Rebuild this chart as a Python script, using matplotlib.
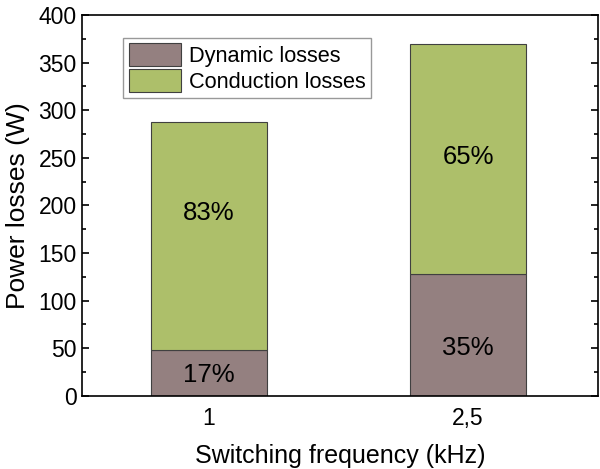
import numpy as np
import matplotlib
matplotlib.use('Agg')
import matplotlib.pyplot as plt
from matplotlib.ticker import MultipleLocator

plt.rcParams['font.family'] = ['Liberation Sans', 'DejaVu Sans']

freqs = ['1', '2,5']
dynamic = [48, 128]
conduction = [240, 242]
dyn_pct = ['17%', '35%']
cond_pct = ['83%', '65%']
dyn_label_y = [22, 50]
cond_label_y = [192, 251]

fig = plt.figure(figsize=(6.0, 4.69), dpi=100)
ax = fig.add_axes([0.137, 0.156, 0.859, 0.812])

x = np.arange(len(freqs))
ax.bar(x, dynamic, width=0.45, color='#948080', edgecolor='#404040',
       linewidth=0.8, label='Dynamic losses')
ax.bar(x, conduction, width=0.45, bottom=dynamic, color='#adbf6a',
       edgecolor='#404040', linewidth=0.8, label='Conduction losses')

for i in range(len(freqs)):
    ax.text(x[i], dyn_label_y[i], dyn_pct[i], ha='center', va='center', fontsize=18.5)
    ax.text(x[i], cond_label_y[i], cond_pct[i], ha='center', va='center', fontsize=18.5)

ax.set_xlim(-0.49, 1.5)
ax.set_ylim(0, 400)
ax.set_xticks(x)
ax.set_xticklabels(freqs)
ax.yaxis.set_major_locator(MultipleLocator(50))
ax.yaxis.set_minor_locator(MultipleLocator(25))
ax.tick_params(axis='y', which='both', direction='in', left=True, right=True,
               labelsize=16.5, width=1.2, pad=4)
ax.tick_params(axis='y', which='major', length=5)
ax.tick_params(axis='y', which='minor', length=3)
ax.tick_params(axis='x', length=0, labelsize=16.5, pad=8)
for s in ax.spines.values():
    s.set_linewidth(1.2)

ax.set_ylabel('Power losses (W)', fontsize=19, labelpad=6)
ax.set_xlabel('Switching frequency (kHz)', fontsize=18, labelpad=10)

leg = ax.legend(loc='upper left', bbox_to_anchor=(0.08, 0.94), fontsize=15.7,
                fancybox=False, edgecolor='#999999', framealpha=1,
                handlelength=2.4, handleheight=1.2, borderpad=0.25,
                labelspacing=0.12, handletextpad=0.35, borderaxespad=0)
leg.get_frame().set_linewidth(1.0)

plt.savefig('out.png', dpi=100)
